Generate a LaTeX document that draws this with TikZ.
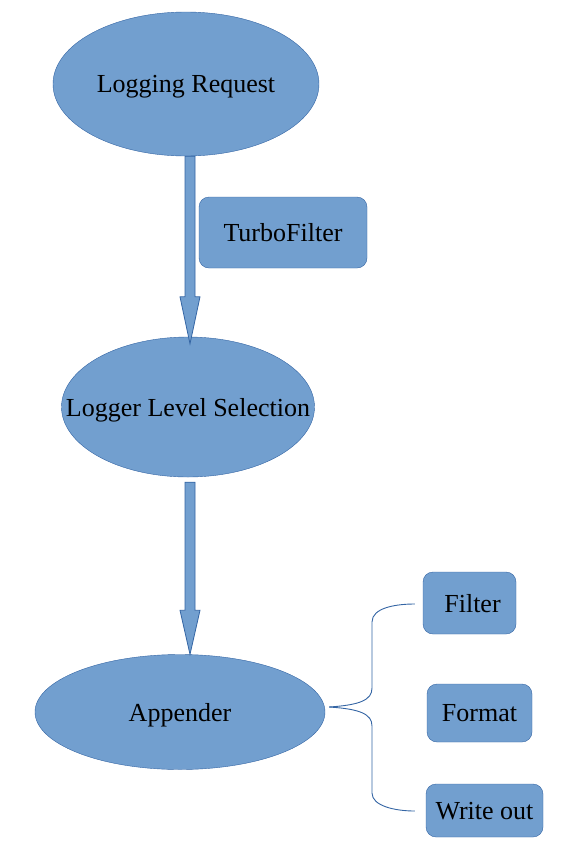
\documentclass[tikz,border=0pt]{standalone}
\usepackage{fontspec}
\setmainfont{Liberation Serif}
\usetikzlibrary{calc,shapes.geometric}
\definecolor{boxfill}{HTML}{729FCF}
\definecolor{boxline}{HTML}{3465A4}
\tikzset{
    stage/.style={ellipse, draw=boxline, fill=boxfill, inner sep=0pt, text depth=0pt, font=\fontsize{26}{30}\selectfont},
    task/.style={rectangle, rounded corners=10pt, draw=boxline, fill=boxfill, inner sep=0pt, text depth=0pt, font=\fontsize{26}{30}\selectfont},
    blockarrow/.style={draw=boxline, fill=boxfill, line width=0.8pt, line join=miter},
    brace/.style={draw=boxline, line width=0.9pt}
}
\begin{document}
\begin{tikzpicture}[x=1pt, y=-1pt]
        \useasboundingbox (0,0) rectangle (582,855);
        % the three stages
        \node[stage, minimum width=266pt, minimum height=144pt] (req) at (186,84)  {Logging Request};
        \node[stage, inner xsep=-36pt, minimum width=253pt, minimum height=140pt] (lvl) at (188,407) {Logger Level Selection};
        \node[stage, minimum width=290pt, minimum height=115pt] (app) at (180,712) {Appender};

        % filter beside the first arrow
        \node[task, minimum width=168pt, minimum height=71pt] (turbo) at (283,232.5) {TurboFilter};

        % appender tasks
        \node[task, minimum width=93pt, minimum height=62pt]  (filt) at (469.5,603) {\hspace{6pt}Filter};
        \node[task, minimum width=105pt, minimum height=58pt] (fmt)  at (479.5,713) {Format};
        \node[task, minimum width=117pt, minimum height=53pt] (wout) at (484.5,810.5) {Write out};

        % block arrows between the stages
        \path[blockarrow] let \p1=($(req.south)+(4,0)$), \p2=($(lvl.north)+(2,7)$) in
            (\x1-5pt,\y1) -- (\x1-5pt,\y2+47pt) -- (\x1-10pt,\y2+47pt) -- (\x1,\y2)
            -- (\x1+10pt,\y2+47pt) -- (\x1+5pt,\y2+47pt) -- (\x1+5pt,\y1) -- cycle;
        \path[blockarrow] let \p1=($(lvl.south)+(2,5)$), \p2=($(app.north)+(10,0)$) in
            (\x1-5pt,\y1) -- (\x1-5pt,\y2+44pt) -- (\x1-10pt,\y2+44pt) -- (\x1,\y2)
            -- (\x1+10pt,\y2+44pt) -- (\x1+5pt,\y2+44pt) -- (\x1+5pt,\y1) -- cycle;

        % brace from the appender to its tasks
        \coordinate (brtip) at ($(app.east)+(4,-5)$);
        \coordinate (brtop) at ($(filt.west)+(-8,1)$);
        \coordinate (brbot) at ($(wout.west)+(-11,0.5)$);
        \draw[brace] (brtip) .. controls (360,705) and (372,700) .. (372,688)
            -- (372,622) .. controls (372,608) and (395,604) .. (brtop);
        \draw[brace] (brtip) .. controls (360,709) and (372,714) .. (372,726)
            -- (372,793) .. controls (372,806) and (395,811) .. (brbot);
    \end{tikzpicture}
\end{document}
